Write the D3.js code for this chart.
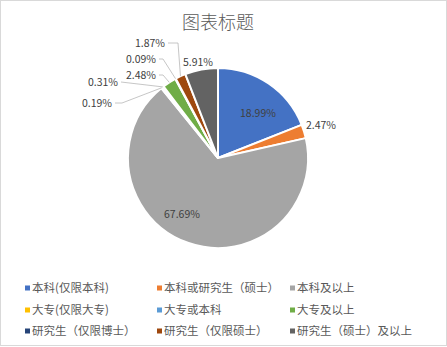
<!DOCTYPE html>
<html>
<head>
<meta charset="utf-8">
<script src="https://cdn.jsdelivr.net/npm/d3@7"></script>
<style>
	body { margin: 0; background: #fff; }
	svg { display: block; font-family: "Noto Sans CJK SC", "Noto Sans", sans-serif; }
</style>
</head>
<body>
<div id="chart"></div>
<script>
var categories = ["本科(仅限本科)", "本科或研究生（硕士）", "本科及以上",
	"大专(仅限大专)", "大专或本科", "大专及以上",
	"研究生（仅限博士）", "研究生（仅限硕士）", "研究生（硕士）及以上"];
var values = [18.99, 2.47, 67.69, 0.19, 0.31, 2.48, 0.09, 1.87, 5.91];
var colors = ["#4472C4", "#ED7D31", "#A5A5A5", "#FFC000", "#5B9BD5", "#70AD47", "#264478", "#9E480E", "#636363"];
var title = "图表标题";

(function () {
	var width = 447, height = 347;
	var cx = 218, cy = 158, r = 90;

	var svg = d3.select('#chart').append("svg").attr('width', width).attr('height', height);

	svg.append("rect")
		.attr("x", 0.5).attr("y", 0.5)
		.attr("width", width - 1).attr("height", height - 2)
		.attr("fill", "#fff").attr("stroke", "#d9d9d9");

	svg.append("text")
		.attr("x", 218).attr("y", 29)
		.attr("text-anchor", "middle")
		.attr("font-size", "18px")
		.attr("font-weight", 300)
		.attr("fill", "#595959")
		.text(title);

	var data = categories.map((c, i) => ({name: c, value: values[i], color: colors[i]}));
	var pie = d3.pie().sort(null).value(d => d.value).startAngle(0).endAngle(2 * Math.PI);
	var arcs = pie(data);
	var arc = d3.arc().innerRadius(0).outerRadius(r);
	var edge = d3.arc().innerRadius(r).outerRadius(r);

	var g = svg.append("g").attr("transform", "translate(" + cx + "," + cy + ")");
	g.selectAll("path").data(arcs).enter()
		.append("path")
		.attr("d", arc)
		.attr("fill", d => d.data.color)
		.attr("stroke", "#fff")
		.attr("stroke-width", 2)
		.attr("stroke-linejoin", "round");

	// label placement relative to pie centre: [dx, dy, anchor, leader knee length or null]
	var labelPos = [
		[40, -45, "middle", null],
		[103, -33, "middle", null],
		[-36, 56, "middle", null],
		[-106, -55, "end", 7],
		[-100, -76, "end", 0],
		[-62, -83, "end", 4],
		[-62, -99, "end", 4],
		[-53, -115, "end", 10]
	].concat([[-20, -96, "middle", null]]);

	var fmt = d => d.toFixed(2) + "%";

	arcs.forEach(function(a, i) {
		var p = labelPos[i];
		g.append("text")
			.attr("x", p[0]).attr("y", p[1])
			.attr("dy", "0.35em")
			.attr("text-anchor", p[2])
			.attr("font-size", "10.5px")
			.attr("fill", "#404040")
			.text(fmt(a.data.value));
		if (p[3] != null) {
			var e = edge.centroid(a);
			var sx = p[0] + 3;
			var kx = sx + p[3];
			g.append("polyline")
				.attr("points", [[sx, p[1]], [kx, p[1]], e].map(q => q.join(",")).join(" "))
				.attr("fill", "none")
				.attr("stroke", "#b3b3b3")
				.attr("stroke-width", 0.75);
		}
	});

	// legend, 3 columns
	var legX = [25, 157, 290], legY = [288, 310, 331];
	var leg = svg.append("g").selectAll("g").data(data).enter()
		.append("g")
		.attr("transform", (d, i) => "translate(" + legX[i % 3] + "," + legY[Math.floor(i / 3)] + ")");
	leg.append("rect")
		.attr("x", 0).attr("y", -2.5).attr("width", 5).attr("height", 5)
		.attr("fill", d => d.color);
	leg.append("text")
		.attr("x", 7).attr("dy", "0.35em")
		.attr("font-size", "11.5px")
		.attr("fill", "#595959")
		.text(d => d.name);
}());
</script>
</body>
</html>
